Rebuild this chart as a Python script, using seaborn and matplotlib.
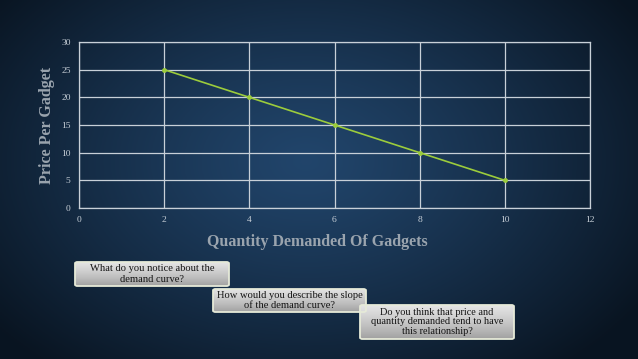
import numpy as np
import pandas as pd
import matplotlib
matplotlib.use("Agg")
import matplotlib.pyplot as plt
import seaborn as sns
from matplotlib.patches import FancyBboxPatch

quantity = [2, 4, 6, 8, 10]
price = [25, 20, 15, 10, 5]
x_ticks = [0, 2, 4, 6, 8, 10, 12]
y_ticks = [0, 5, 10, 15, 20, 25, 30]
questions = [
    "What do you notice about the\ndemand curve?",
    "How would you describe the slope\nof the demand curve?",
    "Do you think that price and\nquantity demanded tend to have\nthis relationship?",
]

sns.set_theme(style="dark")
plt.rcParams['font.family'] = ['Liberation Serif', 'DejaVu Serif']

W, H = 638, 359
fig = plt.figure(figsize=(W / 100, H / 100), dpi=100)

# background with vignette
bg = fig.add_axes([0, 0, 1, 1], zorder=-10)
yy, xx = np.mgrid[0:1:200j, 0:1:300j]
r = np.sqrt(((xx - 0.48) / 0.62) ** 2 + ((yy - 0.55) / 0.75) ** 2)
t = np.clip(r, 0, 1) ** 1.2
c_center = np.array([0.13, 0.27, 0.42])
c_edge = np.array([0.035, 0.08, 0.13])
img = c_center[None, None, :] * (1 - t[..., None]) + c_edge[None, None, :] * t[..., None]
bg.imshow(img, extent=[0, 1, 0, 1], aspect='auto', origin='lower')
bg.set_xlim(0, 1)
bg.set_ylim(0, 1)
bg.set_axis_off()

# plot axes: left 79, right 590, top 42, bottom 208
ax = fig.add_axes([79 / W, 1 - 208 / H, (590 - 79) / W, (208 - 42) / H])
ax.set_facecolor('none')
df = pd.DataFrame({"Quantity": quantity, "Price": price})
sns.lineplot(data=df, x="Quantity", y="Price", ax=ax, color='#9ccc3c',
             marker='o', markersize=3.5, markeredgewidth=0, linewidth=1.2)
ax.set_xlim(0, 12)
ax.set_ylim(0, 30)
ax.set_xticks(x_ticks)
ax.set_yticks(y_ticks)
ax.grid(True, color='#c8d0d8', linewidth=0.9)
for s in ax.spines.values():
    s.set_visible(True)
    s.set_color('#c8d0d8')
    s.set_linewidth(0.9)
ax.tick_params(axis='both', colors='#c8d0d8', labelsize=6.8, length=0, pad=6)
for lab in ax.get_xticklabels() + ax.get_yticklabels():
    lab.set_color('#c8d0d8')
ax.set_xlabel("")
ax.set_ylabel("")

fig.text(317 / W, 1 - 242 / H, "Quantity Demanded Of Gadgets", ha='center', va='center',
         fontsize=11.5, fontweight='bold', color='#9aa4ae')
fig.text(47 / W, 1 - 125 / H, "Price Per Gadget", ha='center', va='center', rotation=90,
         fontsize=11.5, fontweight='bold', color='#9aa4ae')

# overlay for question boxes
ov = fig.add_axes([0, 0, 1, 1], zorder=10)
ov.set_xlim(0, 1)
ov.set_ylim(0, 1)
ov.set_axis_off()
ov.patch.set_alpha(0)
grad = np.linspace(0, 1, 64)[:, None]
boxes = [(75, 262, 229, 286), (213, 289, 366, 312), (360, 305, 514, 339)]
spacings = [1.15, 1.15, 1.08]
sizes = [7.6, 7.6, 7.4]
for (x0, y0, x1, y1), q, ls, fs in zip(boxes, questions, spacings, sizes):
    bx, by, bw, bh = x0 / W, 1 - y1 / H, (x1 - x0) / W, (y1 - y0) / H
    p = FancyBboxPatch((bx, by), bw, bh,
                       boxstyle="round,pad=0,rounding_size=0.004",
                       transform=ov.transData, facecolor='none',
                       edgecolor='#e6ead8', linewidth=1.3, zorder=3)
    ov.add_patch(p)
    g = np.clip(0.62 + 0.28 * grad ** 0.8, 0, 1)
    im = ov.imshow(np.repeat(g, 3, axis=1).reshape(64, 1, 3), extent=[bx, bx + bw, by, by + bh],
                   aspect='auto', origin='lower', zorder=2)
    im.set_clip_path(p)
    ov.text(bx + bw / 2, by + bh / 2, q, ha='center', va='center',
            fontsize=fs, color='#141414', linespacing=ls, zorder=4)
ov.set_xlim(0, 1)
ov.set_ylim(0, 1)

fig.savefig("out.png", dpi=100)
